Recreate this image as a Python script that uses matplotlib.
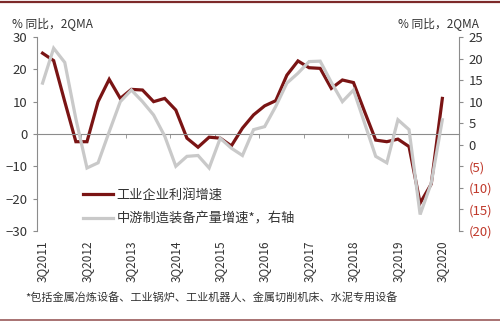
import matplotlib.pyplot as plt
from matplotlib.lines import Line2D

plt.rcParams['font.family'] = ['Noto Sans CJK SC', 'DejaVu Sans']

quarters = ['3Q2011', '4Q2011', '1Q2012', '2Q2012', '3Q2012', '4Q2012', '1Q2013', '2Q2013',
            '3Q2013', '4Q2013', '1Q2014', '2Q2014', '3Q2014', '4Q2014', '1Q2015', '2Q2015',
            '3Q2015', '4Q2015', '1Q2016', '2Q2016', '3Q2016', '4Q2016', '1Q2017', '2Q2017',
            '3Q2017', '4Q2017', '1Q2018', '2Q2018', '3Q2018', '4Q2018', '1Q2019', '2Q2019',
            '3Q2019', '4Q2019', '1Q2020', '2Q2020', '3Q2020']

# 工业企业利润增速 (左轴)
profit_growth = [25.0, 22.7, 10.0, -2.4, -2.4, 10.0, 16.9, 11.0, 13.8, 13.6, 10.0, 11.0,
                 7.4, -1.3, -4.1, -1.0, -1.3, -3.7, 1.8, 5.9, 8.7, 10.3, 18.2, 22.6,
                 20.5, 20.3, 14.1, 16.7, 15.9, 6.9, -1.9, -2.4, -1.6, -3.9, -21.4, -15.5, 11.0]

# 中游制造装备产量增速 (右轴)
equip_output = [14.3, 22.4, 19.1, 6.0, -5.4, -4.2, 3.0, 10.0, 12.7, 10.0, 6.9, 2.0,
                -5.0, -2.7, -2.5, -5.4, 1.5, -0.8, -2.5, 3.5, 4.2, 8.9, 14.3, 16.6,
                19.3, 19.4, 14.5, 10.0, 12.7, 5.0, -2.7, -4.2, 5.8, 3.5, -16.2, -8.9, 5.8]

left_ticks = [30, 20, 10, 0, -10, -20, -30]
right_ticks = [25, 20, 15, 10, 5, 0, -5, -10, -15, -20]
right_labels = ['25', '20', '15', '10', '5', '0', '(5)', '(10)', '(15)', '(20)']

red = '#7a1414'
grey = '#c9c9c9'
axis_grey = '#8c8c8c'
text_col = '#333333'
neg_red = '#c0392b'

fig = plt.figure(figsize=(5, 3.22), dpi=100)
ax = fig.add_axes([0.074, 0.283, 0.844, 0.602])
ax2 = ax.twinx()

x = list(range(len(quarters)))
l1, = ax.plot(x, profit_growth, color=red, lw=2.3, solid_joinstyle='miter')
l2, = ax2.plot(x, equip_output, color=grey, lw=2.3, solid_joinstyle='miter')

ax.set_xlim(-0.5, 37.5)
ax.set_ylim(-30, 30)
ax2.set_ylim(-20, 25)

# spines: grey verticals, zero line carries the category tick marks
for a in (ax, ax2):
    a.spines['bottom'].set_visible(False)
ax.spines['right'].set_visible(False)
ax2.spines['left'].set_visible(False)
ax2.spines['top'].set_visible(False)
ax.spines['left'].set_color(axis_grey)
ax2.spines['right'].set_color(axis_grey)
ax.spines['top'].set_position(('data', 0))
ax.spines['top'].set_color(axis_grey)
ax.spines['top'].set_linewidth(0.8)

ax.set_xticks(x[::4], quarters[::4], rotation=90, fontsize=8.5, color=text_col)
ax.tick_params(axis='x', which='major', length=0, pad=7)
ax.set_xticks([i + 3.5 for i in x[::4][:-1]], minor=True)
ax.tick_params(axis='x', which='minor', bottom=False, top=True, direction='in',
               length=3, color=axis_grey)

ax.set_yticks(left_ticks)
ax.tick_params(axis='y', length=3, color=axis_grey, labelsize=9.5, labelcolor=text_col, pad=4)
ax2.set_yticks(right_ticks, right_labels)
ax2.tick_params(axis='y', length=3, color=axis_grey, labelsize=9.5, pad=4)
for lab in ax2.get_yticklabels():
    lab.set_color(neg_red if lab.get_text().startswith('(') else text_col)

fig.text(0.024, 0.925, '% 同比，2QMA', fontsize=8.5, color=text_col, va='center')
fig.text(0.796, 0.925, '% 同比，2QMA', fontsize=8.5, color=text_col, va='center')

ax.legend([l1, l2], ['工业企业利润增速', '中游制造装备产量增速*，右轴'],
          loc='lower left', bbox_to_anchor=(0.08, -0.035), frameon=False,
          fontsize=9.5, handlelength=2.3, handletextpad=0.25, labelspacing=0.85,
          labelcolor=text_col)

fig.text(0.05, 0.075, '*包括金属冶炼设备、工业锅炉、工业机器人、金属切削机床、水泥专用设备',
         fontsize=8, color=text_col, va='center')

# frame lines above and below the chart
fig.add_artist(Line2D([0, 1], [0.993, 0.993], color='#7d2a2a', lw=1.6))
fig.add_artist(Line2D([0, 1], [0.006, 0.006], color='#9a5a5a', lw=1.2))

fig.savefig('out.png', dpi=100)
